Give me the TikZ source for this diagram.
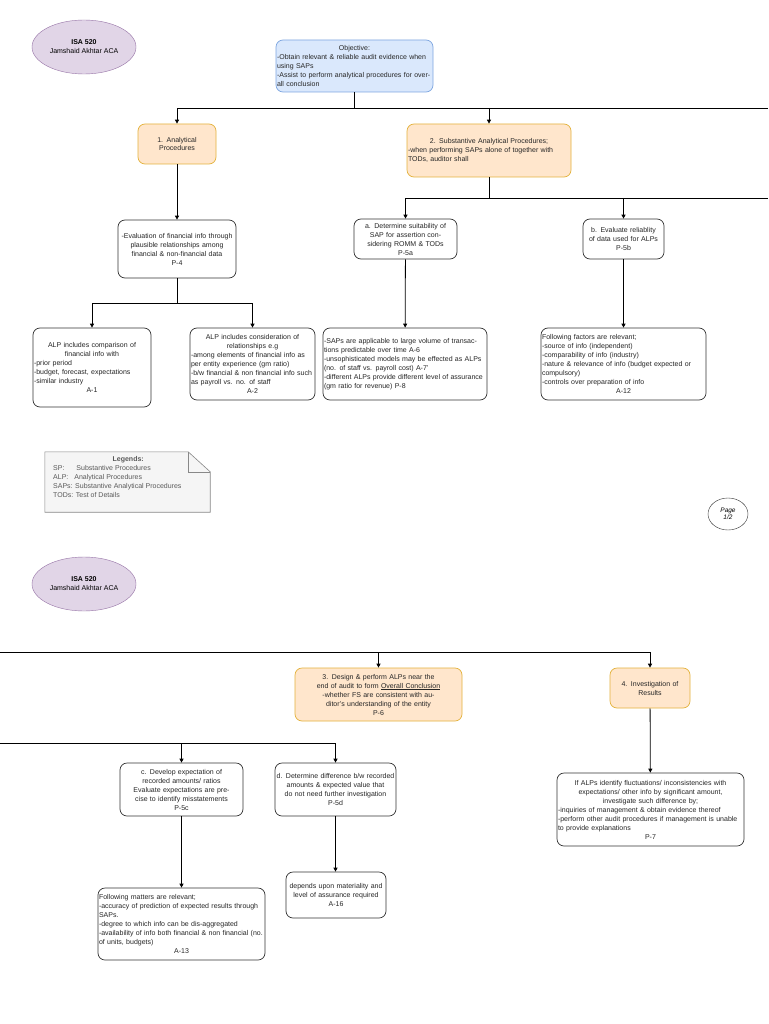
\documentclass[tikz,border=0pt]{standalone}
\usepackage{fontspec}
\setmainfont{Liberation Sans}
\usetikzlibrary{arrows.meta,shapes.geometric}
\definecolor{oF}{HTML}{FFE6CC}\definecolor{oD}{HTML}{E3B23C}
\definecolor{bF}{HTML}{DAE8FC}\definecolor{bD}{HTML}{7EA6E0}
\definecolor{pF}{HTML}{E1D5E7}\definecolor{pD}{HTML}{9673A6}
\definecolor{gF}{HTML}{F5F5F5}\definecolor{gD}{HTML}{888888}
\newcommand\ctr[1]{\hfill#1\hfill\null}
\begin{document}
\begin{tikzpicture}[x=1pt,y=-1pt,
 font=\fontsize{7}{9}\selectfont,
 box/.style={draw=black!80,line width=0.7pt,rounded corners=7pt,fill=white,inner sep=1pt,align=center,text=black!85},
 org/.style={box,fill=oF,draw=oD},
 ell/.style={ellipse,draw=pD,fill=pF,minimum width=104pt,minimum height=54pt,align=center,inner sep=0pt},
 con/.style={draw=black,line width=0.8pt},
 arr/.style={con,-{Triangle[length=4pt,width=4pt]}}]
\useasboundingbox (0,0) rectangle (768,1024);
\fill[white] (0,0) rectangle (768,1024);
% top
\node[ell] (e1) at (84,47) {\textbf{ISA 520}\\Jamshaid Akhtar ACA};
\node[box,fill=bF,draw=bD,minimum width=157pt,minimum height=52pt,text width=155pt,align=left] (obj) at (354.5,66)
 {\ctr{Objective:}\\-Obtain relevant \& reliable audit evidence when using SAPs\\-Assist to perform analytical procedures for overall conclusion};
\node[org,minimum width=78pt,minimum height=40pt,text width=76pt] (b1) at (177,144) {1. Analytical\\Procedures};
\node[org,minimum width=164pt,minimum height=53pt,text width=162pt,align=left] (b2) at (489,150.5)
 {\ctr{2. Substantive Analytical Procedures;}\\-when performing SAPs alone of together with TODs, auditor shall};
\node[box,minimum width=118pt,minimum height=58pt,text width=116pt] (p4) at (177,249)
 {-Evaluation of financial info through plausible relationships among financial \& non-financial data\\P-4};
\node[box,minimum width=118pt,minimum height=79pt,text width=116pt,align=left] (a1) at (92,367.5)
 {\ctr{ALP includes comparison of}\\\ctr{financial info with}\\-prior period\\-budget, forecast, expectations\\-similar industry\\\ctr{A-1}};
\node[box,minimum width=125pt,minimum height=72pt,text width=123pt,align=left] (a2) at (252.5,364)
 {\ctr{ALP includes consideration of}\\\ctr{relationships e.g}\\-among elements of financial info as per entity experience (gm ratio)\\-b/w financial \& non financial info such as payroll vs. no. of staff\\\ctr{A-2}};
\node[box,minimum width=101pt,minimum height=40pt,text width=101pt] (sa) at (405.5,239)
 {a. Determine suitability of SAP for assertion considering ROMM \& TODs\\P-5a};
\node[box,minimum width=79pt,minimum height=40pt,text width=79pt] (sb) at (623.5,239)
 {b. Evaluate reliablity of data used for ALPs\\P-5b};
\node[box,minimum width=164pt,minimum height=72pt,text width=162pt,align=left] (sap) at (405,364)
 {-SAPs are applicable to large volume of transactions predictable over time A-6\\-unsophisticated models may be effected as ALPs (no. of staff vs. payroll cost) A-7'\\-different ALPs provide different level of assurance (gm ratio for revenue) P-8};
\node[box,minimum width=165pt,minimum height=72pt,text width=163pt,align=left] (fac) at (623.5,364)
 {Following factors are relevant;\\-source of info (independent)\\-comparability of info (industry)\\-nature \& relevance of info (budget expected or compulsory)\\-controls over preparation of info\\\ctr{A-12}};
% legend
\node[minimum width=165pt,minimum height=60pt,inner sep=0pt] (leg) at (127.5,482) {};
\draw[draw=gD,fill=gF,line width=0.6pt] (leg.north west) -- ([xshift=-22pt]leg.north east) -- ([yshift=-20pt]leg.north east) -- (leg.south east) -- (leg.south west) -- cycle;
\draw[draw=gD,line width=0.6pt] ([xshift=-22pt]leg.north east) -- ([xshift=-22pt,yshift=-20pt]leg.north east) -- ([yshift=-20pt]leg.north east);
\node[align=left,anchor=north west,inner sep=0pt,text=black!65] (legt) at (53,456)
 {\makebox[150pt]{\textbf{Legends:}}\\SP:\hspace{12pt}Substantive Procedures\\ALP:\hspace{6pt}Analytical Procedures\\SAPs: Substantive Analytical Procedures\\TODs: Test of Details};
\node[ellipse,draw=black!80,minimum width=40pt,minimum height=32pt,inner sep=0pt,align=center,font=\fontsize{6.5}{7.5}\selectfont\itshape] (pg) at (728,514) {Page\\1/2};
% connectors top
\coordinate (r1) at (768,108);
\coordinate (r2) at (768,198);
\draw[con] (obj.south) |- (r1);
\draw[arr] (obj.south) |- ++(-10,16) -| (b1.north);
\draw[arr] (489,108) -- (b2.north);
\draw[arr] (b1) -- (p4);
\draw[arr] (p4.south) |- ++(0,25) -| (a1.north);
\draw[arr] (p4.south) |- ++(0,25) -| (a2.north);
\draw[con] (b2.south) |- (r2);
\draw[arr] (b2.south) |- ++(0,21) -| (sa.north);
\draw[arr] (623.5,198) -- (sb.north);
\draw[arr] (sa) -- (sap);
\draw[arr] (sb) -- (fac);
% bottom
\node[ell] (e2) at (84,584) {\textbf{ISA 520}\\Jamshaid Akhtar ACA};
\node[org,minimum width=167pt,minimum height=53pt,text width=165pt] (b3) at (378.5,694.5)
 {3. Design \& perform ALPs near the end of audit to form \underline{Overall Conclusion}\\-whether FS are consistent with auditor's understanding of the entity\\P-6};
\node[org,minimum width=80pt,minimum height=40pt,text width=78pt] (b4) at (650,688) {4. Investigation of\\Results};
\node[box,minimum width=121pt,minimum height=53pt,text width=121pt] (c) at (181.5,789.5)
 {c. Develop expectation of recorded amounts/ ratios\\Evaluate expectations are precise to identify misstatements\\P-5c};
\node[box,minimum width=121pt,minimum height=53pt,text width=119pt] (d) at (335.5,789.5)
 {d. Determine difference b/w recorded amounts \& expected value that do not need further investigation\\P-5d};
\node[box,minimum width=167pt,minimum height=72pt,text width=165pt,align=left] (mat) at (181.5,924)
 {Following matters are relevant;\\-accuracy of prediction of expected results through SAPs.\\-degree to which info can be dis-aggregated\\-availability of info both financial \& non financial (no. of units, budgets)\\\ctr{A-13}};
\node[box,minimum width=100pt,minimum height=46pt,text width=98pt] (dep) at (336,895)
 {depends upon materiality and level of assurance required\\A-16};
\node[box,minimum width=187pt,minimum height=73pt,text width=185pt,align=left] (p7) at (650.5,809.5)
 {\ctr{If ALPs identify fluctuations/ inconsistencies with}\\\ctr{expectations/ other info by significant amount,}\\\ctr{investigate such difference by;}\\-inquiries of management \& obtain evidence thereof\\-perform other audit procedures if management is unable to provide explanations\\\ctr{P-7}};
\coordinate (l1) at (0,652);
\coordinate (l2) at (0,743);
\draw[arr] (l1) -| (b4.north);
\draw[arr] (378.5,652) -- (b3.north);
\draw[arr] (l2) -| (d.north);
\draw[arr] (181.5,743) -- (c.north);
\draw[arr] (c) -- (mat);
\draw[arr] (d.south) -- (dep.north -| d.south);
\draw[arr] (b4) -- (p7);
\end{tikzpicture}
\end{document}
